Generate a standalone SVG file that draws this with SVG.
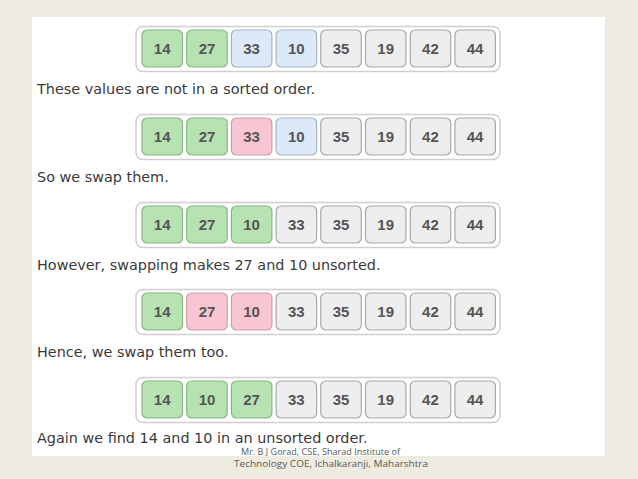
<svg xmlns="http://www.w3.org/2000/svg" width="638" height="479" viewBox="0 0 638 479">
<style>
.bg{fill:#eeebe0}
.panel{fill:#ffffff}
.ctr{fill:#ffffff;stroke:#cfcfcf;stroke-width:1.5}
.b{stroke-width:1.2}
.g{fill:#b6e3b1;stroke:#86b882}
.bl{fill:#dce9f9;stroke:#a3b3c9}
.n{fill:#eeeeee;stroke:#a8a8a8}
.p{fill:#f8c6d2;stroke:#c9a0a8}
.num{font-family:"Liberation Sans",Arial,sans-serif;font-weight:bold;font-size:15px;fill:#555;text-anchor:middle}
.cap{font-family:"DejaVu Sans",Verdana,sans-serif;font-size:14.4px;fill:#3a3a3a}
.ft{font-family:"Open Sans","Liberation Sans",sans-serif;font-size:9.2px;fill:#5a5a5a;text-anchor:middle}
</style>
<rect class="bg" x="0" y="0" width="638" height="479"/>
<rect class="panel" x="32" y="17" width="573" height="439"/>

<g id="row1">
<rect class="ctr" x="136" y="26.5" width="364" height="45" rx="7"/>
<rect class="b g" x="142" y="30" width="40.5" height="37" rx="5"/><text class="num" x="162.2" y="54">14</text>
<rect class="b g" x="186.7" y="30" width="40.5" height="37" rx="5"/><text class="num" x="207" y="54">27</text>
<rect class="b bl" x="231.4" y="30" width="40.5" height="37" rx="5"/><text class="num" x="251.6" y="54">33</text>
<rect class="b bl" x="276.1" y="30" width="40.5" height="37" rx="5"/><text class="num" x="296.3" y="54">10</text>
<rect class="b n" x="320.8" y="30" width="40.5" height="37" rx="5"/><text class="num" x="341" y="54">35</text>
<rect class="b n" x="365.5" y="30" width="40.5" height="37" rx="5"/><text class="num" x="385.7" y="54">19</text>
<rect class="b n" x="410.2" y="30" width="40.5" height="37" rx="5"/><text class="num" x="430.4" y="54">42</text>
<rect class="b n" x="454.9" y="30" width="40.5" height="37" rx="5"/><text class="num" x="475.1" y="54">44</text>
</g>
<text id="t1" class="cap" x="37" y="94">These values are not in a sorted order.</text>

<g id="row2">
<rect class="ctr" x="136" y="114.5" width="364" height="45" rx="7"/>
<rect class="b g" x="142" y="118" width="40.5" height="37" rx="5"/><text class="num" x="162.2" y="142">14</text>
<rect class="b g" x="186.7" y="118" width="40.5" height="37" rx="5"/><text class="num" x="207" y="142">27</text>
<rect class="b p" x="231.4" y="118" width="40.5" height="37" rx="5"/><text class="num" x="251.6" y="142">33</text>
<rect class="b bl" x="276.1" y="118" width="40.5" height="37" rx="5"/><text class="num" x="296.3" y="142">10</text>
<rect class="b n" x="320.8" y="118" width="40.5" height="37" rx="5"/><text class="num" x="341" y="142">35</text>
<rect class="b n" x="365.5" y="118" width="40.5" height="37" rx="5"/><text class="num" x="385.7" y="142">19</text>
<rect class="b n" x="410.2" y="118" width="40.5" height="37" rx="5"/><text class="num" x="430.4" y="142">42</text>
<rect class="b n" x="454.9" y="118" width="40.5" height="37" rx="5"/><text class="num" x="475.1" y="142">44</text>
</g>
<text id="t2" class="cap" x="37" y="182">So we swap them.</text>

<g id="row3">
<rect class="ctr" x="136" y="202.5" width="364" height="45" rx="7"/>
<rect class="b g" x="142" y="206" width="40.5" height="37" rx="5"/><text class="num" x="162.2" y="230">14</text>
<rect class="b g" x="186.7" y="206" width="40.5" height="37" rx="5"/><text class="num" x="207" y="230">27</text>
<rect class="b g" x="231.4" y="206" width="40.5" height="37" rx="5"/><text class="num" x="251.6" y="230">10</text>
<rect class="b n" x="276.1" y="206" width="40.5" height="37" rx="5"/><text class="num" x="296.3" y="230">33</text>
<rect class="b n" x="320.8" y="206" width="40.5" height="37" rx="5"/><text class="num" x="341" y="230">35</text>
<rect class="b n" x="365.5" y="206" width="40.5" height="37" rx="5"/><text class="num" x="385.7" y="230">19</text>
<rect class="b n" x="410.2" y="206" width="40.5" height="37" rx="5"/><text class="num" x="430.4" y="230">42</text>
<rect class="b n" x="454.9" y="206" width="40.5" height="37" rx="5"/><text class="num" x="475.1" y="230">44</text>
</g>
<text id="t3" class="cap" x="37" y="270">However, swapping makes 27 and 10 unsorted.</text>

<g id="row4">
<rect class="ctr" x="136" y="289.5" width="364" height="45" rx="7"/>
<rect class="b g" x="142" y="293" width="40.5" height="37" rx="5"/><text class="num" x="162.2" y="317">14</text>
<rect class="b p" x="186.7" y="293" width="40.5" height="37" rx="5"/><text class="num" x="207" y="317">27</text>
<rect class="b p" x="231.4" y="293" width="40.5" height="37" rx="5"/><text class="num" x="251.6" y="317">10</text>
<rect class="b n" x="276.1" y="293" width="40.5" height="37" rx="5"/><text class="num" x="296.3" y="317">33</text>
<rect class="b n" x="320.8" y="293" width="40.5" height="37" rx="5"/><text class="num" x="341" y="317">35</text>
<rect class="b n" x="365.5" y="293" width="40.5" height="37" rx="5"/><text class="num" x="385.7" y="317">19</text>
<rect class="b n" x="410.2" y="293" width="40.5" height="37" rx="5"/><text class="num" x="430.4" y="317">42</text>
<rect class="b n" x="454.9" y="293" width="40.5" height="37" rx="5"/><text class="num" x="475.1" y="317">44</text>
</g>
<text id="t4" class="cap" x="37" y="357">Hence, we swap them too.</text>

<g id="row5">
<rect class="ctr" x="136" y="377.5" width="364" height="45" rx="7"/>
<rect class="b g" x="142" y="381" width="40.5" height="37" rx="5"/><text class="num" x="162.2" y="405">14</text>
<rect class="b g" x="186.7" y="381" width="40.5" height="37" rx="5"/><text class="num" x="207" y="405">10</text>
<rect class="b g" x="231.4" y="381" width="40.5" height="37" rx="5"/><text class="num" x="251.6" y="405">27</text>
<rect class="b n" x="276.1" y="381" width="40.5" height="37" rx="5"/><text class="num" x="296.3" y="405">33</text>
<rect class="b n" x="320.8" y="381" width="40.5" height="37" rx="5"/><text class="num" x="341" y="405">35</text>
<rect class="b n" x="365.5" y="381" width="40.5" height="37" rx="5"/><text class="num" x="385.7" y="405">19</text>
<rect class="b n" x="410.2" y="381" width="40.5" height="37" rx="5"/><text class="num" x="430.4" y="405">42</text>
<rect class="b n" x="454.9" y="381" width="40.5" height="37" rx="5"/><text class="num" x="475.1" y="405">44</text>
</g>
<text id="t5" class="cap" x="37" y="443">Again we find 14 and 10 in an unsorted order.</text>

<g id="footer">
<text class="ft" x="320.5" y="455" textLength="159" lengthAdjust="spacingAndGlyphs">Mr. B J Gorad, CSE, Sharad Institute of</text>
<text class="ft" x="331" y="467" textLength="194" lengthAdjust="spacingAndGlyphs">Technology COE, Ichalkaranji, Maharshtra</text>
</g>
</svg>
